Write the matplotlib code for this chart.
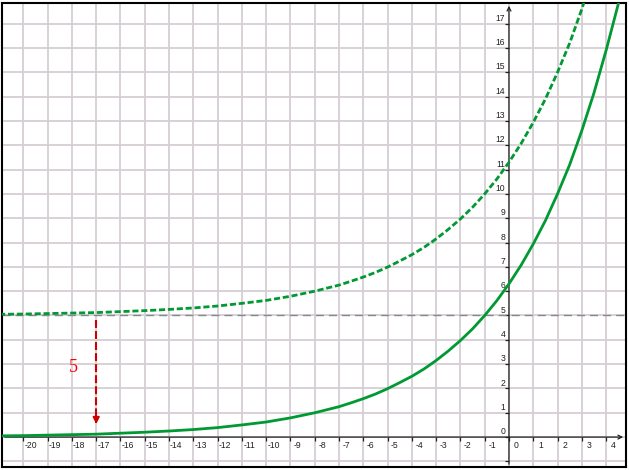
import matplotlib.pyplot as plt

# Values
x_vals = [-21, -20, -19, -18, -17, -16, -15, -14, -13, -12, -11, -10, -9, -8, -7,
          -6.5, -6, -5.5, -5, -4.5, -4, -3.5, -3, -2.5, -2, -1.5, -1, -0.5,
          0, 0.5, 1, 1.5, 2, 2.5, 3, 3.5, 4, 4.5, 5]
solid_y = [0.05, 0.06, 0.08, 0.10, 0.12, 0.16, 0.20, 0.25, 0.31, 0.39, 0.50, 0.62, 0.79, 1.00, 1.25,
           1.41, 1.58, 1.77, 1.99, 2.24, 2.50, 2.80, 3.15, 3.54, 3.97, 4.45, 5.00, 5.61,
           6.30, 7.07, 7.94, 8.90, 10.00, 11.20, 12.60, 14.15, 15.90, 17.80, 20.00]
dashed_y = [5.05, 5.06, 5.08, 5.10, 5.12, 5.16, 5.20, 5.25, 5.31, 5.39, 5.50, 5.62, 5.79, 6.00, 6.25,
            6.41, 6.58, 6.77, 6.99, 7.24, 7.50, 7.80, 8.15, 8.54, 8.97, 9.45, 10.00, 10.61,
            11.30, 12.07, 12.94, 13.90, 15.00, 16.20, 17.60, 19.15, 20.90, 22.80, 25.00]
asymptote = 5
shift = 5
shift_x = -17

x_ticks = list(range(-20, 5))
y_ticks = list(range(0, 18))
grid_x = list(range(-21, 5))
grid_y = list(range(-1, 18))

green = '#009933'

fig = plt.figure(figsize=(6.29, 4.70), dpi=100)
ax = fig.add_axes([2 / 629, 3 / 470, 624 / 629, 464 / 470])
ax.set_xlim(-20.88, 4.82)
ax.set_ylim(-1.23, 17.85)

# grid
for gx in grid_x:
    ax.axvline(gx, color='#d6cfd6', lw=1.3, zorder=0)
for gy in grid_y:
    ax.axhline(gy, color='#d6cfd6', lw=1.3, zorder=0)

ax.set_xticks([])
ax.set_yticks([])
for s in ax.spines.values():
    s.set_color('black')
    s.set_linewidth(1.5)

# axes with arrows
ax.annotate('', xy=(4.82, 0), xytext=(-20.88, 0),
            arrowprops=dict(arrowstyle='->', color='#222222', lw=0.9, mutation_scale=7))
ax.annotate('', xy=(0, 17.85), xytext=(0, -1.23),
            arrowprops=dict(arrowstyle='->', color='#222222', lw=0.9, mutation_scale=7))

# tick marks and labels
ax.vlines(x_ticks + [-21], -0.15, 0, color='#222222', lw=0.9)
ax.hlines(y_ticks + [-1], -0.15, 0, color='#222222', lw=0.9)
for t in x_ticks:
    ax.text(t + 0.3, -0.34, str(t), fontsize=6.2, ha='center', va='center',
            family='Liberation Sans', color='#222222')
for t in y_ticks:
    ax.text(-0.15, t + 0.22, str(t), fontsize=6.2, ha='right', va='center',
            family='Liberation Sans', color='#222222')

# asymptote
ax.axhline(asymptote, color='#888888', lw=1, dashes=(5.8, 3.6), zorder=2)

# curves
ax.plot(x_vals, solid_y, color=green, lw=2, zorder=3)
ax.plot(x_vals, dashed_y, color=green, lw=2, dashes=(2.2, 1.0), zorder=3)

# shift arrow
ax.plot([shift_x, shift_x], [asymptote - 0.17, 0.7], color='#cc0000', lw=1.5,
        dashes=(3.8, 1.5), zorder=4)
ax.annotate('', xy=(shift_x, 0.42), xytext=(shift_x, 0.8),
            arrowprops=dict(arrowstyle='-|>', color='#cc0000', lw=1.2, mutation_scale=10))
ax.text(shift_x - 0.92, 2.88, str(shift), color='red', fontsize=13,
        family='Liberation Serif', ha='center', va='center')

fig.savefig('out.png', dpi=100)
